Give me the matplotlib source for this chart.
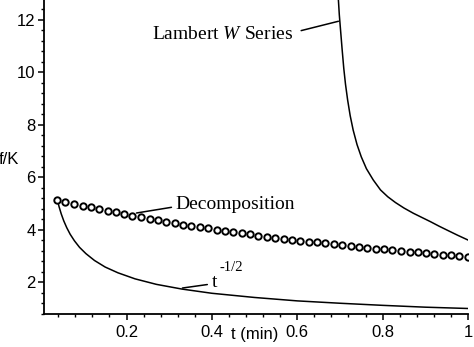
import matplotlib
matplotlib.use('Agg')
import matplotlib.pyplot as plt
from matplotlib.ticker import MultipleLocator

# serif italic W in the Lambert label
plt.rcParams['mathtext.fontset'] = 'custom'
plt.rcParams['mathtext.rm'] = 'Liberation Serif'
plt.rcParams['mathtext.it'] = 'Liberation Serif:italic'

# t^(-1/2) curve
t_power = [0.038, 0.042, 0.047, 0.053, 0.060, 0.068, 0.078, 0.090, 0.105, 0.125,
           0.15, 0.18, 0.22, 0.27, 0.33, 0.40, 0.50, 0.60, 0.70, 0.80, 0.90, 1.00]
f_power = [5.14, 4.88, 4.61, 4.34, 4.08, 3.83, 3.58, 3.33, 3.09, 2.83,
           2.58, 2.36, 2.13, 1.92, 1.74, 1.58, 1.42, 1.29, 1.20, 1.12, 1.05, 1.00]

# Decomposition (circles)
t_dec = [0.038, 0.057, 0.077, 0.097, 0.116, 0.136, 0.156, 0.175, 0.195, 0.214,
         0.234, 0.254, 0.273, 0.293, 0.313, 0.332, 0.352, 0.372, 0.391, 0.411,
         0.430, 0.450, 0.470, 0.489, 0.509, 0.529, 0.548, 0.568, 0.588, 0.607,
         0.627, 0.646, 0.666, 0.686, 0.705, 0.725, 0.745, 0.764, 0.784, 0.804,
         0.823, 0.843, 0.863, 0.882, 0.902, 0.921, 0.941, 0.961, 0.980, 1.000]
f_dec = [5.14, 5.06, 4.99, 4.92, 4.85, 4.79, 4.72, 4.66, 4.60, 4.54,
         4.48, 4.42, 4.36, 4.30, 4.25, 4.20, 4.15, 4.10, 4.05, 4.00,
         3.96, 3.91, 3.87, 3.83, 3.78, 3.74, 3.70, 3.66, 3.62, 3.59,
         3.55, 3.52, 3.48, 3.45, 3.41, 3.38, 3.35, 3.32, 3.28, 3.25,
         3.22, 3.19, 3.16, 3.14, 3.11, 3.08, 3.05, 3.03, 3.00, 2.98]

# Lambert W series
t_lam = [0.6955, 0.6985, 0.7015, 0.705, 0.709, 0.713, 0.718, 0.724, 0.731, 0.740,
         0.750, 0.762, 0.778, 0.795, 0.812, 0.830, 0.850, 0.872, 0.892, 0.912,
         0.932, 0.952, 0.976, 1.0]
f_lam = [13.0, 12.2, 11.6, 10.9, 10.15, 9.55, 8.95, 8.35, 7.8, 7.25,
         6.78, 6.33, 5.9, 5.52, 5.26, 5.04, 4.83, 4.63, 4.47, 4.31,
         4.14, 3.98, 3.79, 3.61]

W, H = 474, 347
fig = plt.figure(figsize=(W / 100, H / 100), dpi=100)
ax = fig.add_axes([44 / W, 33 / H, (468 - 44) / W, 314 / H])

ax.plot(t_power, f_power, color='black', lw=1.1)
ax.plot(t_lam, f_lam, color='black', lw=1.1)
ax.plot(t_dec, f_dec, 'o', color='black', mfc='white', ms=4.6, mew=1.4)

ax.set_xlim(0.0067, 1.0)
ax.set_ylim(0.79, 12.76)

# maple style axes: only left and bottom
for s in ['top', 'right']:
    ax.spines[s].set_visible(False)
for s in ['left', 'bottom']:
    ax.spines[s].set_linewidth(1.3)

ax.xaxis.set_major_locator(MultipleLocator(0.2))
ax.xaxis.set_minor_locator(MultipleLocator(0.04))
ax.yaxis.set_major_locator(MultipleLocator(2))
ax.yaxis.set_minor_locator(MultipleLocator(0.4))
ax.set_xticks([0.2, 0.4, 0.6, 0.8, 1.0])
ax.set_xticklabels(['0.2', '0.4', '0.6', '0.8', '1'])
ax.tick_params(which='major', direction='out', length=4, width=1.1, labelsize=12)
ax.tick_params(axis='y', which='major', pad=2)
ax.tick_params(axis='x', which='major', pad=4)
ax.tick_params(which='minor', direction='out', length=2.5, width=1.0)
for lab in ax.get_xticklabels() + ax.get_yticklabels():
    lab.set_fontfamily('Liberation Sans')

fig.text(255 / W, 1 - 335 / H, 't (min)', ha='center', va='center',
         fontsize=12, family='Liberation Sans')
fig.text(-1 / W, 1 - 160 / H, 'f/K', ha='left', va='center',
         fontsize=12, family='Liberation Sans')

# annotations
serif = 'Liberation Serif'
ax.annotate('Lambert $\\mathit{W}$ Series', xy=(0.6965, 11.95), xytext=(0.590, 11.45),
            ha='right', va='center', fontsize=14, family=serif,
            arrowprops=dict(arrowstyle='-', lw=1.1, color='black', shrinkA=4, shrinkB=0,
                            relpos=(1, 0.6)))
ax.annotate('Decomposition', xy=(0.2234, 4.64), xytext=(0.315, 4.98),
            ha='left', va='center', fontsize=14, family=serif,
            arrowprops=dict(arrowstyle='-', lw=1.1, color='black', shrinkA=1, shrinkB=0,
                            relpos=(0, 0.35)))
ax.annotate('t', xy=(0.331, 1.78), xytext=(0.399, 2.0),
            ha='left', va='center', fontsize=14, family=serif,
            arrowprops=dict(arrowstyle='-', lw=1.1, color='black', shrinkA=1, shrinkB=0,
                            relpos=(0, 0.4)))
ax.text(0.418, 2.55, '-1/2', ha='left', va='center', fontsize=10.5, family=serif)

fig.savefig('out.png', dpi=100)
